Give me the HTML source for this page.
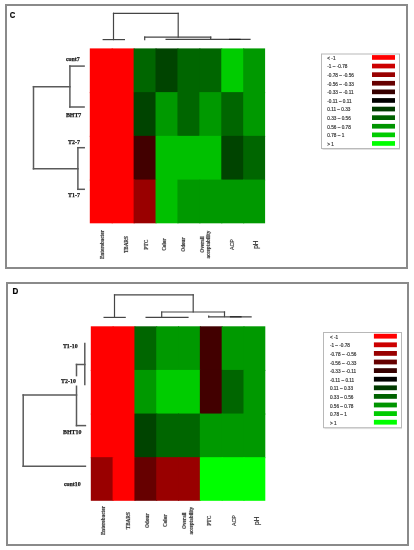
<!DOCTYPE html>
<html><head><meta charset="utf-8"><style>
html,body{margin:0;padding:0;background:#fff;width:414px;height:550px;overflow:hidden}
svg{display:block}
.pl{font-family:"Liberation Sans",sans-serif;font-weight:bold;font-size:9.4px;fill:#000;stroke:#000;stroke-width:0.2px}
.rl{font-family:"Liberation Serif",serif;font-weight:bold;font-size:5.9px;fill:#111;stroke:#222;stroke-width:0.25px}
.cl{font-family:"Liberation Serif",serif;font-weight:bold;font-size:5.1px;fill:#2a2a2a;stroke:#555;stroke-width:0.2px;dominant-baseline:central}
.cl3{font-family:"Liberation Sans",sans-serif;font-size:6.6px;fill:#222;stroke:#333;stroke-width:0.15px;dominant-baseline:central}
.cl2{font-family:"Liberation Sans",sans-serif;font-size:5.2px;fill:#222;stroke:#333;stroke-width:0.15px;dominant-baseline:central}
.lg{font-family:"Liberation Sans",sans-serif;font-size:4.7px;fill:#333;stroke:#444;stroke-width:0.18px}
</style></head><body>
<svg width="414" height="550" viewBox="0 0 414 550">
<rect x="6" y="5" width="401" height="263" fill="none" stroke="#8a8a8a" stroke-width="2"/>
<rect x="7" y="283" width="401" height="262" fill="none" stroke="#8a8a8a" stroke-width="2"/>
<text x="9.8" y="18.1" class="pl" textLength="5.5" lengthAdjust="spacingAndGlyphs">C</text>
<text x="12.4" y="293.6" class="pl" textLength="5.8" lengthAdjust="spacingAndGlyphs">D</text>
<g><rect x="89.80" y="48.40" width="22.91" height="44.73" fill="#FF0000"/>
<rect x="111.71" y="48.40" width="22.91" height="44.73" fill="#FF0000"/>
<rect x="133.62" y="48.40" width="22.91" height="44.73" fill="#006600"/>
<rect x="155.54" y="48.40" width="22.91" height="44.73" fill="#004400"/>
<rect x="177.45" y="48.40" width="22.91" height="44.73" fill="#006600"/>
<rect x="199.36" y="48.40" width="22.91" height="44.73" fill="#006600"/>
<rect x="221.28" y="48.40" width="22.91" height="44.73" fill="#00CC00"/>
<rect x="243.19" y="48.40" width="21.91" height="44.73" fill="#009900"/>
<rect x="89.80" y="92.12" width="22.91" height="44.73" fill="#FF0000"/>
<rect x="111.71" y="92.12" width="22.91" height="44.73" fill="#FF0000"/>
<rect x="133.62" y="92.12" width="22.91" height="44.73" fill="#004400"/>
<rect x="155.54" y="92.12" width="22.91" height="44.73" fill="#009900"/>
<rect x="177.45" y="92.12" width="22.91" height="44.73" fill="#006600"/>
<rect x="199.36" y="92.12" width="22.91" height="44.73" fill="#009900"/>
<rect x="221.28" y="92.12" width="22.91" height="44.73" fill="#006600"/>
<rect x="243.19" y="92.12" width="21.91" height="44.73" fill="#009900"/>
<rect x="89.80" y="135.85" width="22.91" height="44.73" fill="#FF0000"/>
<rect x="111.71" y="135.85" width="22.91" height="44.73" fill="#FF0000"/>
<rect x="133.62" y="135.85" width="22.91" height="44.73" fill="#420000"/>
<rect x="155.54" y="135.85" width="22.91" height="44.73" fill="#00C000"/>
<rect x="177.45" y="135.85" width="22.91" height="44.73" fill="#00C000"/>
<rect x="199.36" y="135.85" width="22.91" height="44.73" fill="#00C000"/>
<rect x="221.28" y="135.85" width="22.91" height="44.73" fill="#004400"/>
<rect x="243.19" y="135.85" width="21.91" height="44.73" fill="#006600"/>
<rect x="89.80" y="179.58" width="22.91" height="43.73" fill="#FF0000"/>
<rect x="111.71" y="179.58" width="22.91" height="43.73" fill="#FF0000"/>
<rect x="133.62" y="179.58" width="22.91" height="43.73" fill="#990000"/>
<rect x="155.54" y="179.58" width="22.91" height="43.73" fill="#00C000"/>
<rect x="177.45" y="179.58" width="22.91" height="43.73" fill="#009900"/>
<rect x="199.36" y="179.58" width="22.91" height="43.73" fill="#009900"/>
<rect x="221.28" y="179.58" width="22.91" height="43.73" fill="#009900"/>
<rect x="243.19" y="179.58" width="21.91" height="43.73" fill="#009900"/></g>
<g><rect x="90.80" y="326.30" width="22.81" height="44.62" fill="#FF0000"/>
<rect x="112.61" y="326.30" width="22.81" height="44.62" fill="#FF0000"/>
<rect x="134.43" y="326.30" width="22.81" height="44.62" fill="#006600"/>
<rect x="156.24" y="326.30" width="22.81" height="44.62" fill="#009900"/>
<rect x="178.05" y="326.30" width="22.81" height="44.62" fill="#009900"/>
<rect x="199.86" y="326.30" width="22.81" height="44.62" fill="#420000"/>
<rect x="221.68" y="326.30" width="22.81" height="44.62" fill="#009900"/>
<rect x="243.49" y="326.30" width="21.81" height="44.62" fill="#009900"/>
<rect x="90.80" y="369.93" width="22.81" height="44.62" fill="#FF0000"/>
<rect x="112.61" y="369.93" width="22.81" height="44.62" fill="#FF0000"/>
<rect x="134.43" y="369.93" width="22.81" height="44.62" fill="#009900"/>
<rect x="156.24" y="369.93" width="22.81" height="44.62" fill="#00CC00"/>
<rect x="178.05" y="369.93" width="22.81" height="44.62" fill="#00CC00"/>
<rect x="199.86" y="369.93" width="22.81" height="44.62" fill="#420000"/>
<rect x="221.68" y="369.93" width="22.81" height="44.62" fill="#006600"/>
<rect x="243.49" y="369.93" width="21.81" height="44.62" fill="#009900"/>
<rect x="90.80" y="413.55" width="22.81" height="44.62" fill="#FF0000"/>
<rect x="112.61" y="413.55" width="22.81" height="44.62" fill="#FF0000"/>
<rect x="134.43" y="413.55" width="22.81" height="44.62" fill="#004400"/>
<rect x="156.24" y="413.55" width="22.81" height="44.62" fill="#006600"/>
<rect x="178.05" y="413.55" width="22.81" height="44.62" fill="#006600"/>
<rect x="199.86" y="413.55" width="22.81" height="44.62" fill="#009900"/>
<rect x="221.68" y="413.55" width="22.81" height="44.62" fill="#009900"/>
<rect x="243.49" y="413.55" width="21.81" height="44.62" fill="#009900"/>
<rect x="90.80" y="457.18" width="22.81" height="43.62" fill="#990000"/>
<rect x="112.61" y="457.18" width="22.81" height="43.62" fill="#FF0000"/>
<rect x="134.43" y="457.18" width="22.81" height="43.62" fill="#660000"/>
<rect x="156.24" y="457.18" width="22.81" height="43.62" fill="#990000"/>
<rect x="178.05" y="457.18" width="22.81" height="43.62" fill="#990000"/>
<rect x="199.86" y="457.18" width="22.81" height="43.62" fill="#00FF00"/>
<rect x="221.68" y="457.18" width="22.81" height="43.62" fill="#00FF00"/>
<rect x="243.49" y="457.18" width="21.81" height="43.62" fill="#00FF00"/></g>
<g stroke="#454545" stroke-width="1.2" fill="none" stroke-linecap="square"><line x1="113.5" y1="13.3" x2="178.2" y2="13.3"/><line x1="113.5" y1="13.3" x2="113.5" y2="39.6"/><line x1="103.2" y1="39.6" x2="124.4" y2="39.6"/><line x1="178.2" y1="13.3" x2="178.2" y2="37.1"/><line x1="144.7" y1="37.1" x2="210.7" y2="37.1"/><line x1="144.7" y1="37.1" x2="144.7" y2="39.6"/><line x1="210.7" y1="37.1" x2="210.7" y2="39"/><line x1="166.1" y1="39.4" x2="250" y2="39.4"/></g>
<g stroke="#222" stroke-width="1.2" fill="none" stroke-linecap="square"><line x1="229.5" y1="39.4" x2="240" y2="39.4"/></g>
<g stroke="#5a5a5a" stroke-width="1.5" fill="none" stroke-linecap="square"><line x1="69.9" y1="66.1" x2="84.1" y2="66.1"/><line x1="69.9" y1="66.1" x2="69.9" y2="107"/><line x1="69.9" y1="107" x2="84.1" y2="107"/><line x1="33.5" y1="86.7" x2="69.9" y2="86.7"/><line x1="33.5" y1="86.7" x2="33.5" y2="168.8"/><line x1="33.5" y1="168.8" x2="77.9" y2="168.8"/><line x1="77.9" y1="147.7" x2="77.9" y2="189.3"/><line x1="77.9" y1="147.7" x2="84.2" y2="147.7"/><line x1="77.9" y1="189.3" x2="84.2" y2="189.3"/></g>
<g stroke="#454545" stroke-width="1.2" fill="none" stroke-linecap="square"><line x1="114.5" y1="294.9" x2="193.2" y2="294.9"/><line x1="114.5" y1="294.9" x2="114.5" y2="317.4"/><line x1="104.1" y1="317.4" x2="125.2" y2="317.4"/><line x1="193.2" y1="294.9" x2="193.2" y2="312"/><line x1="161.7" y1="312" x2="224.5" y2="312"/><line x1="161.7" y1="312" x2="161.7" y2="317.4"/><line x1="224.5" y1="312" x2="224.5" y2="316.6"/><line x1="146.1" y1="317.4" x2="188" y2="317.4"/><line x1="208.7" y1="316.8" x2="251.1" y2="316.8"/><line x1="208.7" y1="316" x2="208.7" y2="316.8"/></g>
<g stroke="#222" stroke-width="1.2" fill="none" stroke-linecap="square"><line x1="230.5" y1="316.8" x2="241" y2="316.8"/></g>
<g stroke="#5a5a5a" stroke-width="1.5" fill="none" stroke-linecap="square"><line x1="84.8" y1="343.6" x2="84.8" y2="384.5"/><line x1="76.5" y1="364.5" x2="84.8" y2="364.5"/><line x1="76.5" y1="364.5" x2="76.5" y2="375.6"/><line x1="76.5" y1="386.3" x2="76.5" y2="425.6"/><line x1="76.5" y1="425.6" x2="85.4" y2="425.6"/><line x1="23.2" y1="394.9" x2="76.5" y2="394.9"/><line x1="23.2" y1="394.9" x2="23.2" y2="466.3"/><line x1="23.2" y1="466.3" x2="85.4" y2="466.3"/></g>
<text x="65.9" y="60.7" class="rl">cont7</text>
<text x="65.9" y="116.7" class="rl">BHT7</text>
<text x="68.1" y="143.9" class="rl">T2-7</text>
<text x="68.1" y="197.0" class="rl">T1-7</text>
<text x="62.9" y="347.6" class="rl">T1-10</text>
<text x="61.1" y="382.7" class="rl">T2-10</text>
<text x="63" y="433.6" class="rl">BHT10</text>
<text x="64" y="486" class="rl">cont10</text>
<text transform="translate(102.0,244.6) rotate(-90)" class="cl" text-anchor="middle">Enterobacter</text>
<text transform="translate(126.3,244.6) rotate(-90)" class="cl" text-anchor="middle">TBARS</text>
<text transform="translate(145.6,244.6) rotate(-90)" class="cl" text-anchor="middle">PTC</text>
<text transform="translate(164.2,244.6) rotate(-90)" class="cl" text-anchor="middle">Color</text>
<text transform="translate(183,244.6) rotate(-90)" class="cl" text-anchor="middle">Odour</text>
<text transform="translate(201.5,244.6) rotate(-90)" class="cl" text-anchor="middle">Overall</text>
<text transform="translate(207.6,244.6) rotate(-90)" class="cl" text-anchor="middle">acceptability</text>
<text transform="translate(232.2,244.6) rotate(-90)" class="cl2" text-anchor="middle">ACP</text>
<text transform="translate(255.9,244.6) rotate(-90)" class="cl3" text-anchor="middle">pH</text>
<text transform="translate(103,520.7) rotate(-90)" class="cl" text-anchor="middle">Enterobacter</text>
<text transform="translate(128,520.7) rotate(-90)" class="cl" text-anchor="middle">TBARS</text>
<text transform="translate(146.8,520.7) rotate(-90)" class="cl" text-anchor="middle">Odour</text>
<text transform="translate(165.3,520.7) rotate(-90)" class="cl" text-anchor="middle">Color</text>
<text transform="translate(184.1,520.7) rotate(-90)" class="cl" text-anchor="middle">Overall</text>
<text transform="translate(191,520.7) rotate(-90)" class="cl" text-anchor="middle">acceptability</text>
<text transform="translate(209.2,520.7) rotate(-90)" class="cl" text-anchor="middle">PTC</text>
<text transform="translate(234.1,520.7) rotate(-90)" class="cl2" text-anchor="middle">ACP</text>
<text transform="translate(256.9,520.7) rotate(-90)" class="cl3" text-anchor="middle">pH</text>
<rect x="321.5" y="54" width="78" height="94.5" fill="#fff" stroke="#b8b8b8" stroke-width="1"/>
<line x1="322.5" y1="149.4" x2="400.0" y2="149.4" stroke="#d4d4d4" stroke-width="0.8"/>
<rect x="372" y="55.10" width="23" height="4.7" fill="#FF0000"/>
<text x="327.3" y="59.70" class="lg">&lt; -1</text>
<rect x="372" y="63.70" width="23" height="4.7" fill="#CC0000"/>
<text x="327.3" y="68.30" class="lg">-1 – -0.78</text>
<rect x="372" y="72.30" width="23" height="4.7" fill="#990000"/>
<text x="327.3" y="76.90" class="lg">-0.78 – -0.56</text>
<rect x="372" y="80.90" width="23" height="4.7" fill="#660000"/>
<text x="327.3" y="85.50" class="lg">-0.56 – -0.33</text>
<rect x="372" y="89.50" width="23" height="4.7" fill="#360000"/>
<text x="327.3" y="94.10" class="lg">-0.33 – -0.11</text>
<rect x="372" y="98.10" width="23" height="4.7" fill="#000000"/>
<text x="327.3" y="102.70" class="lg">-0.11 – 0.11</text>
<rect x="372" y="106.70" width="23" height="4.7" fill="#003a00"/>
<text x="327.3" y="111.30" class="lg">0.11 – 0.33</text>
<rect x="372" y="115.30" width="23" height="4.7" fill="#006200"/>
<text x="327.3" y="119.90" class="lg">0.33 – 0.56</text>
<rect x="372" y="123.90" width="23" height="4.7" fill="#009400"/>
<text x="327.3" y="128.50" class="lg">0.56 – 0.78</text>
<rect x="372" y="132.50" width="23" height="4.7" fill="#00CC00"/>
<text x="327.3" y="137.10" class="lg">0.78 – 1</text>
<rect x="372" y="141.10" width="23" height="4.7" fill="#00FF00"/>
<text x="327.3" y="145.70" class="lg">&gt; 1</text>
<rect x="323.5" y="332.5" width="78" height="95.2" fill="#fff" stroke="#b8b8b8" stroke-width="1"/>
<line x1="324.5" y1="428.59999999999997" x2="402.0" y2="428.59999999999997" stroke="#d4d4d4" stroke-width="0.8"/>
<rect x="373.9" y="333.80" width="23" height="4.8" fill="#FF0000"/>
<text x="329.9" y="338.70" class="lg">&lt; -1</text>
<rect x="373.9" y="342.40" width="23" height="4.8" fill="#CC0000"/>
<text x="329.9" y="347.30" class="lg">-1 – -0.78</text>
<rect x="373.9" y="351.00" width="23" height="4.8" fill="#990000"/>
<text x="329.9" y="355.90" class="lg">-0.78 – -0.56</text>
<rect x="373.9" y="359.60" width="23" height="4.8" fill="#660000"/>
<text x="329.9" y="364.50" class="lg">-0.56 – -0.33</text>
<rect x="373.9" y="368.20" width="23" height="4.8" fill="#360000"/>
<text x="329.9" y="373.10" class="lg">-0.33 – -0.11</text>
<rect x="373.9" y="376.80" width="23" height="4.8" fill="#000000"/>
<text x="329.9" y="381.70" class="lg">-0.11 – 0.11</text>
<rect x="373.9" y="385.40" width="23" height="4.8" fill="#003a00"/>
<text x="329.9" y="390.30" class="lg">0.11 – 0.33</text>
<rect x="373.9" y="394.00" width="23" height="4.8" fill="#006200"/>
<text x="329.9" y="398.90" class="lg">0.33 – 0.56</text>
<rect x="373.9" y="402.60" width="23" height="4.8" fill="#009400"/>
<text x="329.9" y="407.50" class="lg">0.56 – 0.78</text>
<rect x="373.9" y="411.20" width="23" height="4.8" fill="#00CC00"/>
<text x="329.9" y="416.10" class="lg">0.78 – 1</text>
<rect x="373.9" y="419.80" width="23" height="4.8" fill="#00FF00"/>
<text x="329.9" y="424.70" class="lg">&gt; 1</text>
</svg>
</body></html>
